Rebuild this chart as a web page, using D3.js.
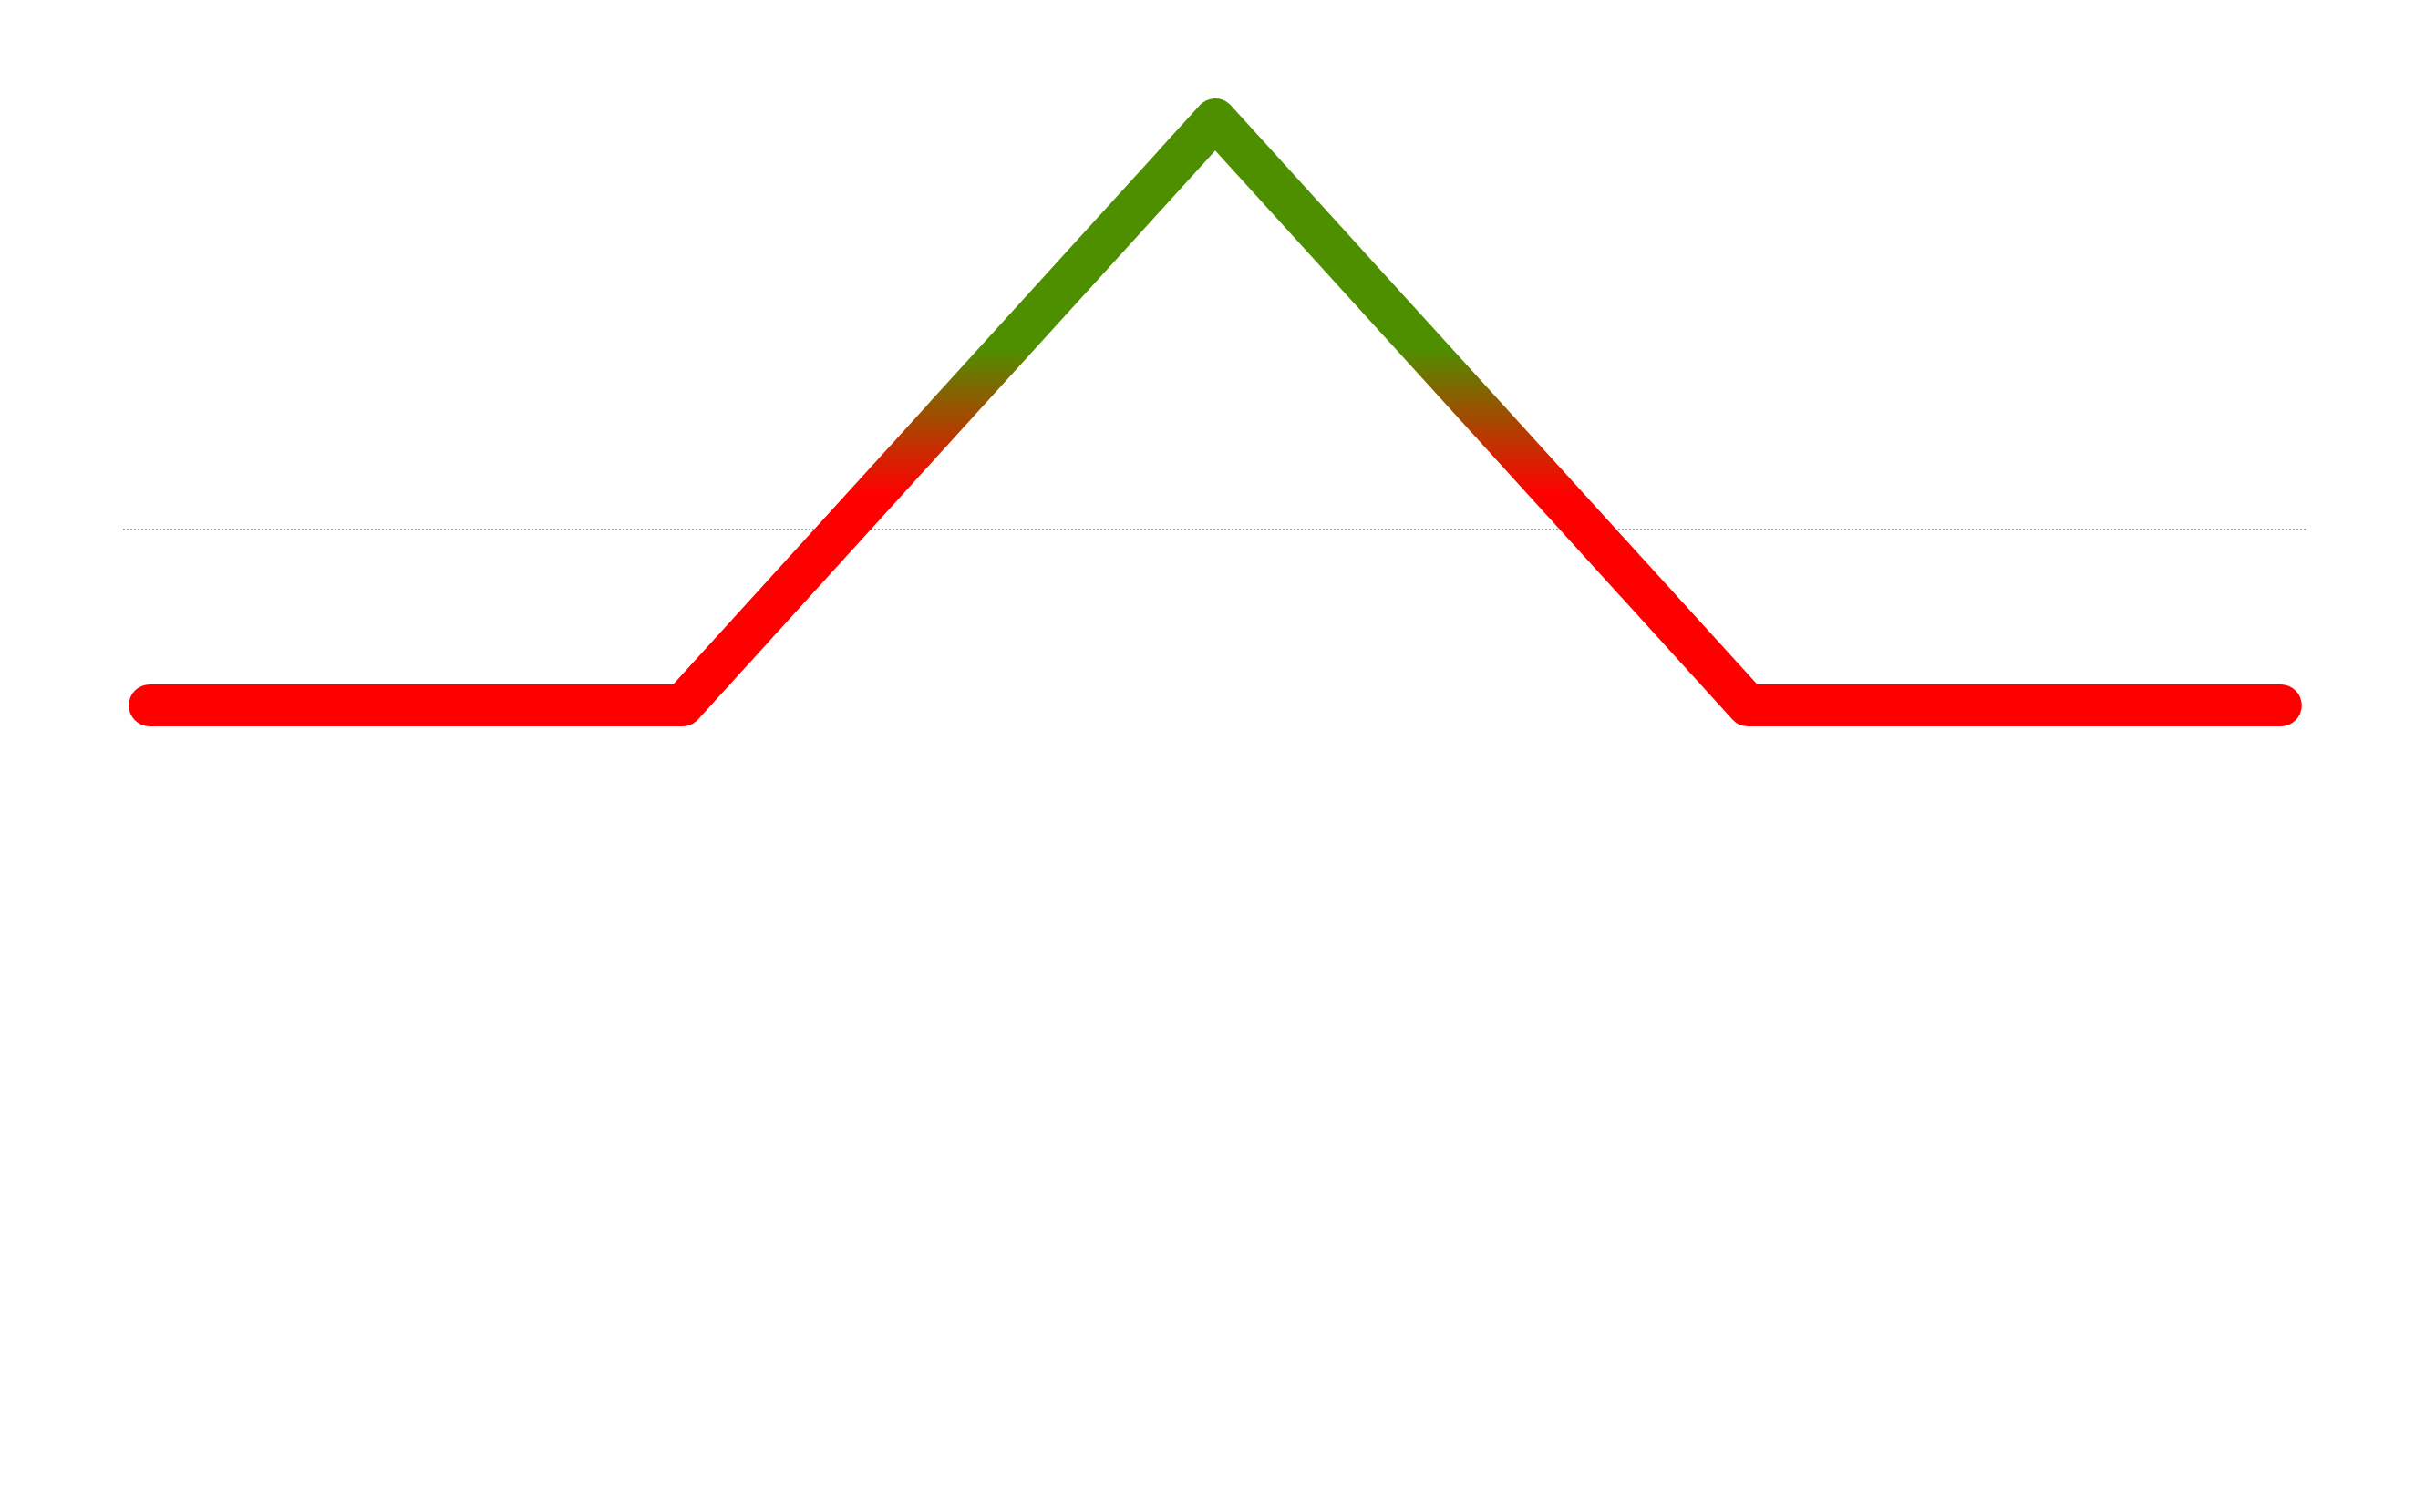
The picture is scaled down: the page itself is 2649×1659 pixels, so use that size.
<!DOCTYPE html>
<html>
<head>
<meta charset="utf-8">
<script src="https://cdn.jsdelivr.net/npm/d3@7"></script>
<style>
  html, body { margin: 0; padding: 0; background: #fff; }
  svg { display: block; }
</style>
</head>
<body>
<svg id="chart"></svg>
<script>
const categories = ["A", "B", "C", "D", "E"];
const values = [0, 0, 10, 0, 0];
const thresholdValue = 3;
// value where the colour starts/ends to change
const gradientStops = [
  { value: 3.6, color: "#ff0000" },
  { value: 6.1, color: "#4e8f00" }
];

const width = 2649, height = 1659;

const svg = d3.select("#chart")
  .attr("width", width)
  .attr("height", height);

let x = d3.scalePoint()
  .domain(categories)
  .range([135, 2531])
  .padding(0.05);

let y = d3.scaleLinear()
  .domain([0, 10])
  .range([774, 131]);

let defs = svg.append("defs");
let grad = defs.append("linearGradient")
  .attr("id", "lineGrad")
  .attr("gradientUnits", "userSpaceOnUse")
  .attr("x1", 0).attr("x2", 0)
  .attr("y1", y(gradientStops[0].value))
  .attr("y2", y(gradientStops[1].value));

grad.selectAll("stop")
  .data(gradientStops)
  .enter()
  .append("stop")
  .attr("offset", (d, i) => i)
  .attr("stop-color", d => d.color);

// dotted threshold line
svg.append("line")
  .attr("x1", x.range()[0])
  .attr("x2", x.range()[1])
  .attr("y1", y(thresholdValue))
  .attr("y2", y(thresholdValue))
  .attr("stroke", "#9a9a9a")
  .attr("stroke-width", 2)
  .attr("stroke-dasharray", "2,2");

let line = d3.line()
  .x((d, i) => x(categories[i]))
  .y(d => y(d));

svg.append("path")
  .datum(values)
  .attr("d", line)
  .attr("fill", "none")
  .attr("stroke", "url(#lineGrad)")
  .attr("stroke-width", 46)
  .attr("stroke-linejoin", "round")
  .attr("stroke-linecap", "round");
</script>
</body>
</html>
